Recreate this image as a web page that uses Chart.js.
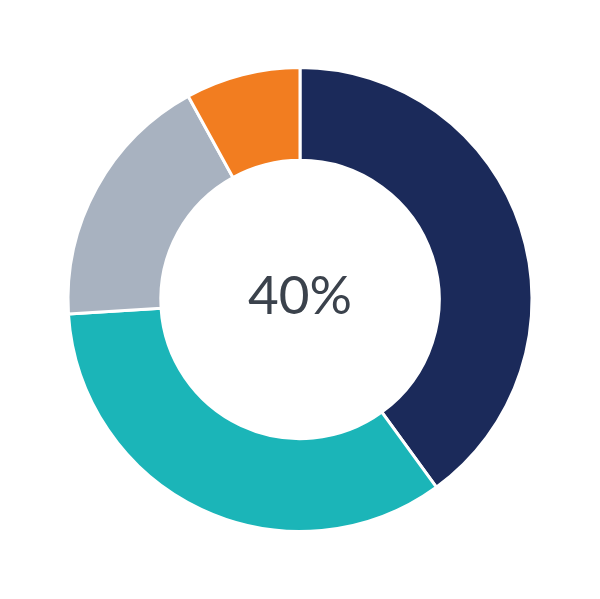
<!DOCTYPE html>
<html>
<head>
<meta charset="utf-8">
<script src="https://cdn.jsdelivr.net/npm/chart.js@4.4.0/dist/chart.umd.min.js"></script>
<style>
  html, body { margin: 0; padding: 0; background: #fff; }
  #wrap { position: relative; width: 600px; height: 599px; }
</style>
</head>
<body>
<div id="wrap"><canvas id="donut" width="600" height="599"></canvas></div>
<script>
var labels = ["Navy", "Teal", "Gray", "Orange"];
var values = [40, 34, 18, 8];
var colors = ["#1b2a5a", "#1bb5b8", "#a8b2c0", "#f27d20"];
var centerText = "40%";

var centerLabel = {
	id: "centerLabel",
	afterDraw: function(chart){
		var ctx = chart.ctx;
		var meta = chart.getDatasetMeta(0).data[0];
		ctx.save();
		ctx.font = "400 53px Lato";
		ctx.fillStyle = "#3b424c";
		ctx.textAlign = "center";
		ctx.textBaseline = "middle";
		ctx.fillText(centerText, meta.x, meta.y - 3);
		ctx.restore();
	}
};

new Chart(document.getElementById("donut").getContext("2d"), {
	type: "doughnut",
	data: {
		labels: labels,
		datasets: [{
			data: values,
			backgroundColor: colors,
			borderColor: "#ffffff",
			borderWidth: 3
		}]
	},
	options: {
		responsive: false,
		animation: false,
		cutout: "60%",
		layout: { padding: { top: 66, bottom: 66, left: 66, right: 66 } },
		plugins: {
			legend: { display: false },
			tooltip: { enabled: false }
		}
	},
	plugins: [centerLabel]
});
</script>
</body>
</html>
